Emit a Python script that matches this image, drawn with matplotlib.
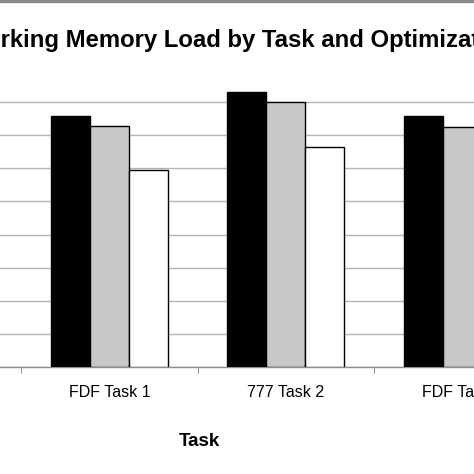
import matplotlib
matplotlib.use('Agg')
import numpy as np
import matplotlib.pyplot as plt
from matplotlib.patches import Rectangle

plt.rcParams['font.family'] = ['Liberation Sans', 'DejaVu Sans']

## chart data (in gridline units)
tasks = ['FDF Task 1', '777 Task 2', 'FDF Task 3']
series_names = ['Condition 1', 'Condition 2', 'Condition 3']
load_black = [7.58, 8.30, 7.58]
load_grey = [7.27, 7.98, 7.25]
load_white = [5.93, 6.64, 5.93]
grid_ticks = [0, 1, 2, 3, 4, 5, 6, 7, 8]

title_text = 'Working Memory Load by Task and Optimization'
xlabel_text = 'Task'

if __name__ == '__main__':
    W = H = 474
    fig = plt.figure(figsize=(W / 100, H / 100), dpi=100)

    base_px = 367.3
    top_px = 81.8
    ax = fig.add_axes([0, 1 - base_px / H, 1, (base_px - top_px) / H])

    x = np.arange(len(tasks))
    bw = 0.221
    colors = ['black', '#c8c8c8', 'white']
    for k, (vals, col, name) in enumerate(zip([load_black, load_grey, load_white],
                                              colors, series_names)):
        ax.bar(x + (k - 1) * bw, vals, width=bw, color=col, edgecolor='black',
               linewidth=1.0, label=name, zorder=3)

    ax.set_yticks(grid_ticks)
    ax.set_ylim(0, 8.6)
    ax.yaxis.grid(True, color='#b4b4b4', linewidth=1.0, zorder=0)
    ax.tick_params(axis='y', left=False, labelleft=False)

    # category axis: ticks at boundaries, labels in the middle
    ax.set_xticks(x)
    ax.set_xticklabels(tasks, fontsize=11.5)
    ax.set_xticks(np.arange(-0.5, 3.0, 1.0), minor=True)
    ax.set_xlim(-0.619, 2.065)
    ax.tick_params(axis='x', which='major', length=0, pad=13)
    ax.tick_params(axis='x', which='minor', length=4, color='#808080', direction='out')

    for s in ['left', 'right', 'top']:
        ax.spines[s].set_visible(False)
    ax.spines['bottom'].set_color('#909090')
    ax.spines['bottom'].set_linewidth(1.0)

    fig.text(199 / W, 1 - 441.5 / H, xlabel_text, fontsize=13.5,
             fontweight='bold', ha='center', va='center')

    # title: placed so the left part falls outside the picture
    r = fig.canvas.get_renderer()
    tsize = 17.2
    probe = fig.text(0, 0, 'Wo', fontsize=tsize, fontweight='bold')
    w_wo = probe.get_window_extent(renderer=r).width
    probe.remove()
    fig.text((1 - w_wo) / W, 1 - 40.5 / H, title_text, fontsize=tsize,
             fontweight='bold', ha='left', va='center')

    # grey band along the top edge
    fig.patches.append(Rectangle((0, 1 - 2.2 / H), 1, 2.2 / H,
                                 transform=fig.transFigure,
                                 color='#8a8a8a', zorder=10))

    fig.savefig('out.png', dpi=100)
